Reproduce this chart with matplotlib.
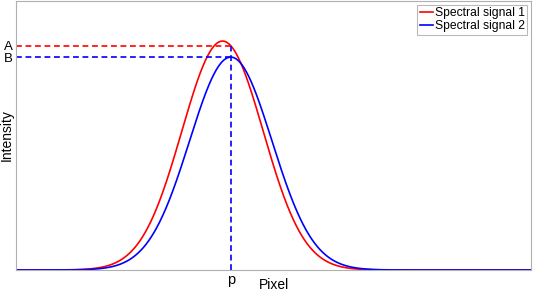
import numpy as np
import matplotlib
matplotlib.use('Agg')
import matplotlib.pyplot as plt

plt.rcParams['font.family'] = ['Liberation Sans', 'DejaVu Sans']

# signal parameters (pixel units)
x = np.linspace(0, 1000, 2001)
centers = [401, 417]
amps = [1.0, 0.93]
sigmas = [79, 80]
names = ['Spectral signal 1', 'Spectral signal 2']
colors = ['red', 'blue']

fig = plt.figure(figsize=(5.33, 2.9), dpi=100)
ax = fig.add_axes([16 / 533, 20 / 290, 515 / 533, 269 / 290])

curves = []
for c, a, s, n, col in zip(centers, amps, sigmas, names, colors):
    y = a * np.exp(-(x - c) ** 2 / (2 * s ** 2))
    curves.append(y)
    ax.plot(x, y, color=col, lw=1.2, label=n)

p = centers[1]
A = np.interp(p, x, curves[0])
B = np.interp(p, x, curves[1])

dash = (3.5, 2.2)
ax.plot([0, p], [A, A], color='red', ls='--', dashes=dash, lw=1.2)
ax.plot([0, p], [B, B], color='blue', ls='--', dashes=dash, lw=1.2)
ax.plot([p, p], [0, A], color='blue', ls='--', dashes=dash, lw=1.2)

ax.set_xlim(0, 1000)
ax.set_ylim(0, 1.175)
ax.set_xticks([p])
ax.set_xticklabels(['p'], fontsize=10.5)
ax.set_yticks([B, A])
ax.set_yticklabels(['B', 'A'], fontsize=9.5)
ax.tick_params(length=0, pad=2)
ax.set_xlabel('Pixel', fontsize=10)
ax.set_ylabel('Intensity', fontsize=10)
ax.xaxis.set_label_coords(0.5, -0.028)
ax.yaxis.set_label_coords(-0.005, 0.5)
for sp in ax.spines.values():
    sp.set_color('#b0b0b0')

leg = ax.legend(loc='upper right', fontsize=8.7, frameon=True, fancybox=False,
                borderaxespad=0.3, handlelength=1.1, handletextpad=0.15,
                borderpad=0.2, labelspacing=0.1)
leg.get_frame().set_edgecolor('#a8a8a8')
leg.get_frame().set_linewidth(0.8)

fig.savefig('out.png', dpi=100)
